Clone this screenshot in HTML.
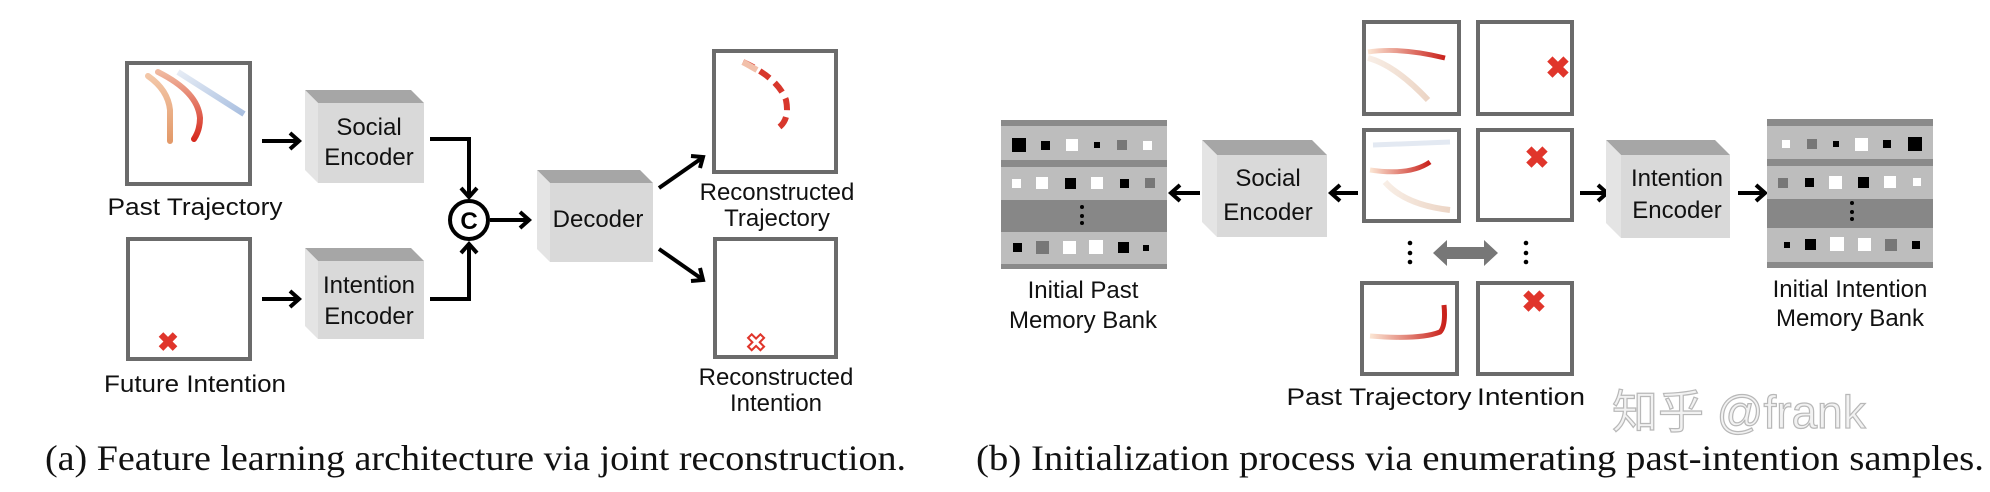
<!DOCTYPE html>
<html><head><meta charset="utf-8"><style>
html,body{margin:0;padding:0;background:#fff;}
svg{display:block}
.t{font-family:"Liberation Sans",sans-serif;font-size:24px;fill:#111;text-anchor:middle}
.c{font-family:"Liberation Serif",serif;font-size:36px;fill:#111}
.bx{fill:#fff;stroke:#6b6b6b;stroke-width:4}
.ln{fill:none;stroke:#000;stroke-width:4}
</style></head><body>
<svg width="1990" height="492" viewBox="0 0 1990 492" xmlns="http://www.w3.org/2000/svg">
<defs>
<linearGradient id="g1" x1="0" y1="0" x2="0" y2="1"><stop offset="0" stop-color="#f3c7a8"/><stop offset="1" stop-color="#e39a6a"/></linearGradient>
<linearGradient id="g2" x1="0" y1="0" x2="0" y2="1"><stop offset="0" stop-color="#f0b9a0"/><stop offset="1" stop-color="#d62a1e"/></linearGradient>
<linearGradient id="g3" x1="0" y1="0" x2="1" y2="1"><stop offset="0" stop-color="#e6ecf5"/><stop offset="1" stop-color="#a9bfe0"/></linearGradient>
<linearGradient id="g4" x1="0" y1="0" x2="1" y2="0"><stop offset="0" stop-color="#fbe6d4"/><stop offset="1" stop-color="#c9211b"/></linearGradient>
<linearGradient id="g5" x1="0" y1="0" x2="1" y2="0"><stop offset="0" stop-color="#f8eee6"/><stop offset="1" stop-color="#ecd5c5"/></linearGradient>
</defs>

<!-- ===== Panel (a) ===== -->
<rect class="bx" x="127" y="63" width="123" height="121"/>
<path d="M148,76 Q168,90 170,110 L170,141" stroke="url(#g1)" stroke-width="6" fill="none" stroke-linecap="round"/>
<path d="M158,72 Q198,92 200,118 Q200,130 194,139" stroke="url(#g2)" stroke-width="6" fill="none" stroke-linecap="round"/>
<path d="M178,72 L244,114" stroke="url(#g3)" stroke-width="6" fill="none"/>
<text class="t" x="195" y="215" textLength="175" lengthAdjust="spacingAndGlyphs">Past Trajectory</text>

<rect class="bx" x="128" y="239" width="122" height="120"/>
<text x="168" y="351" font-family="Liberation Sans,sans-serif" font-size="26" font-weight="bold" fill="#e0352b" text-anchor="middle">✖</text>
<text class="t" x="195" y="392" textLength="182" lengthAdjust="spacingAndGlyphs">Future Intention</text>

<g class="ln"><path d="M262,141 H298"/><path d="M290,133 L299,141 L290,149"/></g>
<g class="ln"><path d="M262,299 H298"/><path d="M290,291 L299,299 L290,307"/></g>

<g>
<rect x="318" y="103" width="106" height="80" fill="#d9d9d9"/>
<polygon points="305,90 411,90 424,103 318,103" fill="#a6a6a6"/>
<polygon points="305,90 318,103 318,183 305,170" fill="#e4e4e4"/>
</g>
<text class="t" x="369" y="135">Social</text>
<text class="t" x="369" y="165">Encoder</text>
<g>
<rect x="318" y="261" width="106" height="78" fill="#d9d9d9"/>
<polygon points="305,248 411,248 424,261 318,261" fill="#a6a6a6"/>
<polygon points="305,248 318,261 318,339 305,326" fill="#e4e4e4"/>
</g>
<text class="t" x="369" y="293">Intention</text>
<text class="t" x="369" y="324">Encoder</text>

<g class="ln"><path d="M430,139 H469 V196"/><path d="M461,188 L469,197 L477,188"/></g>
<g class="ln"><path d="M430,299 H469 V245"/><path d="M461,253 L469,244 L477,253"/></g>
<circle cx="469" cy="220" r="19" fill="#fff" stroke="#000" stroke-width="4"/>
<text x="469" y="229" font-family="Liberation Sans,sans-serif" font-size="24" font-weight="bold" text-anchor="middle" fill="#000">C</text>
<g class="ln"><path d="M490,220 H528"/><path d="M520,212 L529,220 L520,228"/></g>

<g>
<rect x="550" y="183" width="103" height="79" fill="#d9d9d9"/>
<polygon points="537,170 640,170 653,183 550,183" fill="#a6a6a6"/>
<polygon points="537,170 550,183 550,262 537,249" fill="#e4e4e4"/>
</g>
<text class="t" x="598" y="227">Decoder</text>

<g class="ln"><path d="M659,188 L702,158"/><path d="M691,156 L703,157 L700,168"/></g>
<g class="ln"><path d="M659,249 L702,279"/><path d="M700,268 L703,280 L691,281"/></g>

<rect class="bx" x="714" y="51" width="122" height="121"/>
<path d="M743,62 Q778,78 786,100 Q790,120 778,128" stroke="#d8372c" stroke-width="6" fill="none" stroke-dasharray="12,7"/>
<path d="M743,62 L757,70" stroke="#f2c0aa" stroke-width="6"/>
<text class="t" x="777" y="200">Reconstructed</text>
<text class="t" x="777" y="226">Trajectory</text>

<rect class="bx" x="715" y="239" width="121" height="118"/>
<text x="756" y="351" font-family="Liberation Sans,sans-serif" font-size="24" fill="#fff" stroke="#e0352b" stroke-width="2" text-anchor="middle">✖</text>
<text class="t" x="776" y="385">Reconstructed</text>
<text class="t" x="776" y="411">Intention</text>

<text class="c" x="45" y="470" textLength="861" lengthAdjust="spacingAndGlyphs">(a) Feature learning architecture via joint reconstruction.</text>

<!-- ===== Panel (b) ===== -->
<g>
<rect x="1001" y="120" width="166" height="149" fill="#bdbdbd"/>
<rect x="1001" y="120" width="166" height="6" fill="#8a8a8a"/>
<rect x="1001" y="160" width="166" height="7" fill="#8a8a8a"/>
<rect x="1001" y="200" width="166" height="32" fill="#878787"/>
<rect x="1001" y="264" width="166" height="5" fill="#8a8a8a"/>
<rect x="1012" y="138" width="14" height="14" fill="#000"/>
<rect x="1041" y="141" width="9" height="9" fill="#000"/>
<rect x="1066" y="139" width="12" height="12" fill="#fff"/>
<rect x="1094" y="142" width="6" height="6" fill="#000"/>
<rect x="1117" y="140" width="10" height="10" fill="#777"/>
<rect x="1143" y="141" width="9" height="9" fill="#fff"/>
<rect x="1012" y="179" width="9" height="9" fill="#fff"/>
<rect x="1036" y="177" width="12" height="12" fill="#fff"/>
<rect x="1065" y="178" width="11" height="11" fill="#000"/>
<rect x="1091" y="177" width="12" height="12" fill="#fff"/>
<rect x="1120" y="179" width="9" height="9" fill="#000"/>
<rect x="1145" y="178" width="10" height="10" fill="#777"/>
<circle cx="1082" cy="207" r="2" fill="#000"/><circle cx="1082" cy="216" r="2" fill="#000"/><circle cx="1082" cy="223" r="2" fill="#000"/>
<rect x="1013" y="243" width="9" height="9" fill="#000"/>
<rect x="1036" y="241" width="13" height="13" fill="#777"/>
<rect x="1063" y="241" width="13" height="13" fill="#fff"/>
<rect x="1089" y="240" width="14" height="14" fill="#fff"/>
<rect x="1118" y="242" width="11" height="11" fill="#000"/>
<rect x="1143" y="245" width="6" height="6" fill="#000"/>
</g>
<text class="t" x="1083" y="298">Initial Past</text>
<text class="t" x="1083" y="328">Memory Bank</text>

<g class="ln"><path d="M1200,193 H1172"/><path d="M1180,185 L1171,193 L1180,201"/></g>

<g>
<rect x="1217" y="155" width="110" height="82" fill="#d9d9d9"/>
<polygon points="1202,140 1312,140 1327,155 1217,155" fill="#a6a6a6"/>
<polygon points="1202,140 1217,155 1217,237 1202,222" fill="#e4e4e4"/>
</g>
<text class="t" x="1268" y="186">Social</text>
<text class="t" x="1268" y="220">Encoder</text>

<g class="ln"><path d="M1358,193 H1332"/><path d="M1340,185 L1331,193 L1340,201"/></g>

<rect class="bx" x="1364" y="22" width="95" height="92"/>
<path d="M1368,52 Q1400,47 1445,58" stroke="url(#g4)" stroke-width="5" fill="none"/>
<path d="M1368,58 Q1395,65 1428,100" stroke="url(#g5)" stroke-width="6" fill="none"/>
<rect class="bx" x="1478" y="22" width="94" height="92"/>
<text x="1558" y="78" font-family="Liberation Sans,sans-serif" font-size="30" font-weight="bold" fill="#e0352b" text-anchor="middle">✖</text>

<rect class="bx" x="1364" y="130" width="95" height="91"/>
<path d="M1373,145 L1450,142" stroke="#e3e9f2" stroke-width="5"/>
<path d="M1370,170 Q1410,176 1430,162" stroke="url(#g4)" stroke-width="5" fill="none"/>
<path d="M1385,182 Q1405,205 1450,210" stroke="url(#g5)" stroke-width="6" fill="none"/>
<rect class="bx" x="1478" y="130" width="94" height="90"/>
<text x="1537" y="168" font-family="Liberation Sans,sans-serif" font-size="30" font-weight="bold" fill="#e0352b" text-anchor="middle">✖</text>

<g fill="#000"><circle cx="1410" cy="243" r="2.3"/><circle cx="1410" cy="253" r="2.3"/><circle cx="1410" cy="262" r="2.3"/>
<circle cx="1526" cy="243" r="2.3"/><circle cx="1526" cy="253" r="2.3"/><circle cx="1526" cy="262" r="2.3"/></g>
<polygon points="1433,253 1447,240 1447,247 1484,247 1484,240 1498,253 1484,266 1484,259 1447,259 1447,266" fill="#777"/>

<rect class="bx" x="1362" y="283" width="95" height="91"/>
<path d="M1370,336 Q1420,340 1440,332 Q1446,326 1444,305" stroke="url(#g4)" stroke-width="5" fill="none"/>
<rect class="bx" x="1478" y="283" width="94" height="91"/>
<text x="1534" y="312" font-family="Liberation Sans,sans-serif" font-size="30" font-weight="bold" fill="#e0352b" text-anchor="middle">✖</text>

<text class="t" x="1379" y="405" textLength="185" lengthAdjust="spacingAndGlyphs">Past Trajectory</text>
<text class="t" x="1531" y="405" textLength="108" lengthAdjust="spacingAndGlyphs">Intention</text>

<g class="ln"><path d="M1580,193 H1606"/><path d="M1598,185 L1607,193 L1598,201"/></g>

<g>
<rect x="1621" y="155" width="109" height="83" fill="#d9d9d9"/>
<polygon points="1606,140 1715,140 1730,155 1621,155" fill="#a6a6a6"/>
<polygon points="1606,140 1621,155 1621,238 1606,223" fill="#e4e4e4"/>
</g>
<text class="t" x="1677" y="186">Intention</text>
<text class="t" x="1677" y="218">Encoder</text>

<g class="ln"><path d="M1738,193 H1764"/><path d="M1756,185 L1765,193 L1756,201"/></g>

<g>
<rect x="1767" y="119" width="166" height="149" fill="#bdbdbd"/>
<rect x="1767" y="119" width="166" height="7" fill="#8a8a8a"/>
<rect x="1767" y="159" width="166" height="7" fill="#8a8a8a"/>
<rect x="1767" y="199" width="166" height="29" fill="#878787"/>
<rect x="1767" y="262" width="166" height="6" fill="#8a8a8a"/>
<rect x="1782" y="140" width="8" height="8" fill="#fff"/>
<rect x="1807" y="139" width="10" height="10" fill="#777"/>
<rect x="1833" y="141" width="6" height="6" fill="#000"/>
<rect x="1855" y="138" width="13" height="13" fill="#fff"/>
<rect x="1883" y="140" width="8" height="8" fill="#000"/>
<rect x="1908" y="137" width="14" height="14" fill="#000"/>
<rect x="1778" y="178" width="10" height="10" fill="#777"/>
<rect x="1805" y="178" width="9" height="9" fill="#000"/>
<rect x="1829" y="176" width="13" height="13" fill="#fff"/>
<rect x="1858" y="177" width="11" height="11" fill="#000"/>
<rect x="1884" y="176" width="12" height="12" fill="#fff"/>
<rect x="1913" y="178" width="8" height="8" fill="#fff"/>
<circle cx="1852" cy="203" r="2" fill="#000"/><circle cx="1852" cy="212" r="2" fill="#000"/><circle cx="1852" cy="219" r="2" fill="#000"/>
<rect x="1784" y="242" width="6" height="6" fill="#000"/>
<rect x="1805" y="239" width="11" height="11" fill="#000"/>
<rect x="1830" y="237" width="14" height="14" fill="#fff"/>
<rect x="1858" y="238" width="13" height="13" fill="#fff"/>
<rect x="1885" y="239" width="12" height="12" fill="#777"/>
<rect x="1912" y="241" width="8" height="8" fill="#000"/>
</g>
<text class="t" x="1850" y="297">Initial Intention</text>
<text class="t" x="1850" y="326">Memory Bank</text>

<text x="1612" y="428" font-family="Liberation Sans,'Noto Sans CJK SC',sans-serif" font-size="46" fill="#f2f2f2" stroke="#b8b8b8" stroke-width="1.2">知乎 @frank</text>

<text class="c" x="976" y="470" textLength="1008" lengthAdjust="spacingAndGlyphs">(b) Initialization process via enumerating past-intention samples.</text>
</svg>
</body></html>
